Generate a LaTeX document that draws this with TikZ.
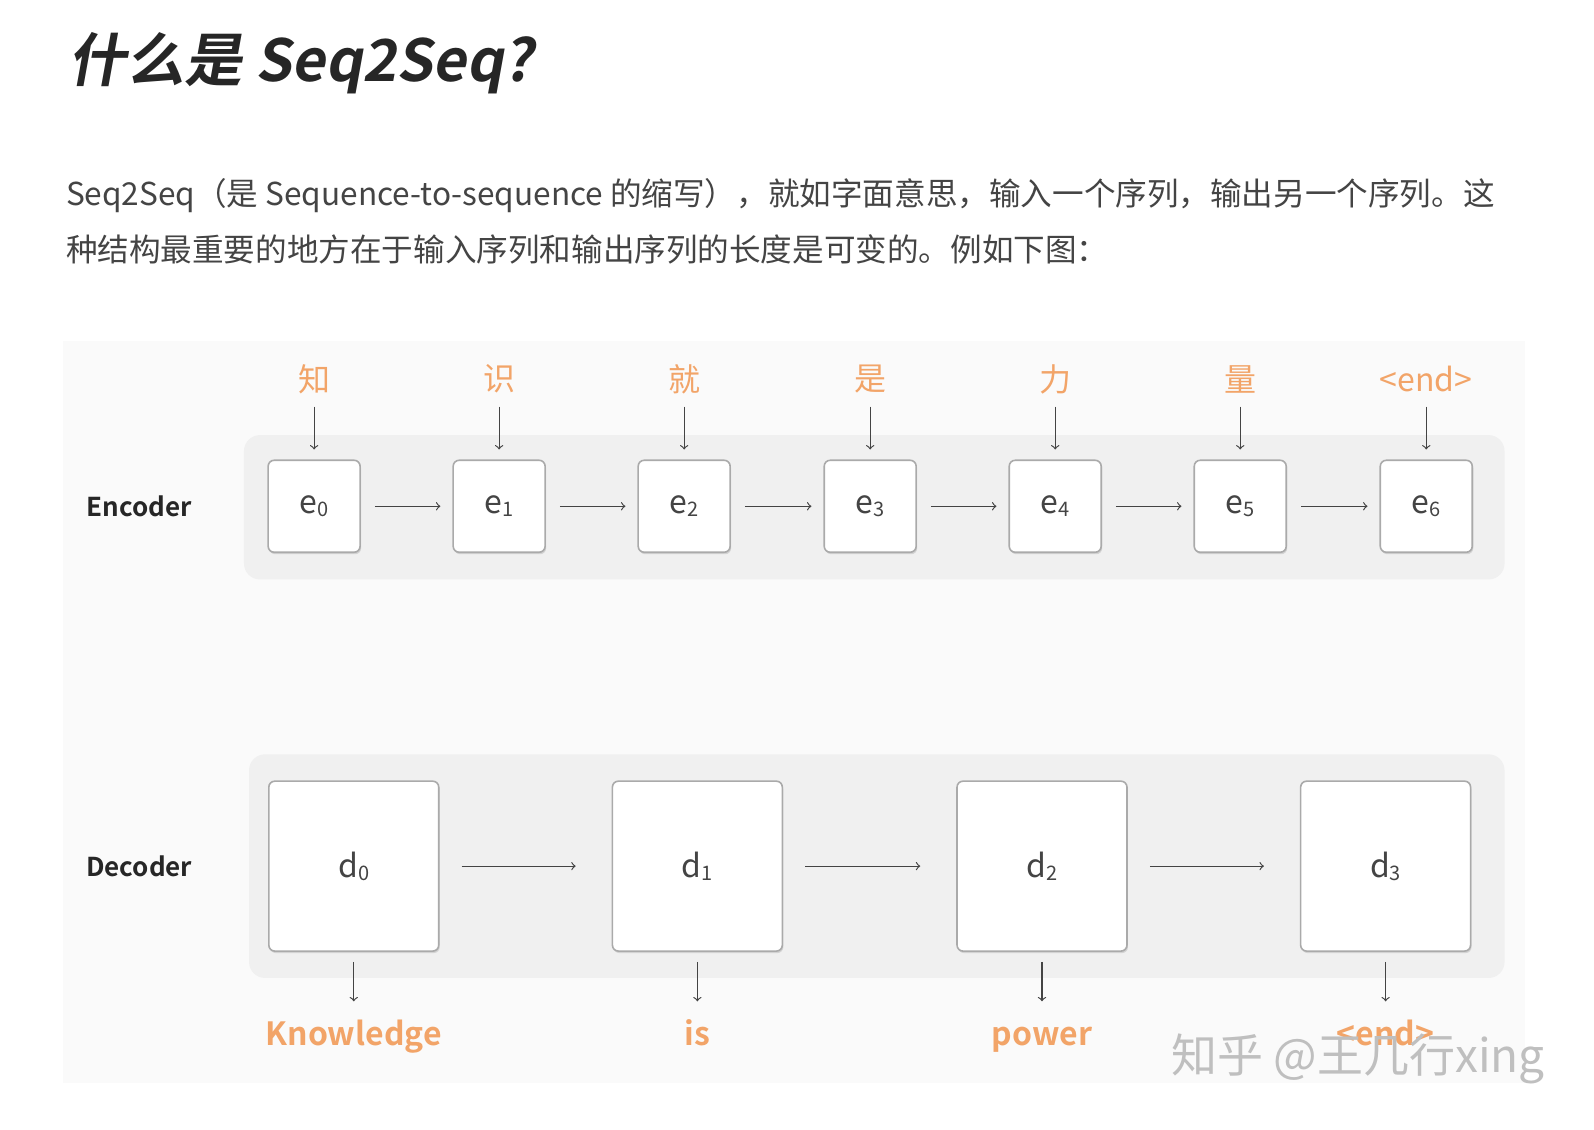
\documentclass[tikz,border=0pt]{standalone}
\usepackage{fontspec}
\setmainfont{Noto Sans CJK SC}
\newfontfamily\titlefont[FakeSlant=0.18]{Noto Sans CJK SC Bold}
\newfontfamily\boldf{Noto Sans CJK SC Bold}
\usetikzlibrary{shadows}
\definecolor{txt}{HTML}{444444}
\definecolor{org}{HTML}{F2A468}
\definecolor{panel}{HTML}{FAFAFA}
\definecolor{band}{HTML}{F0F0F0}
\definecolor{bord}{HTML}{AAAAAA}
\tikzset{
 cell/.style={draw=bord,fill=white,rounded corners=3pt,line width=0.8pt,drop shadow={shadow xshift=0.5pt,shadow yshift=-1pt,opacity=0.25},font=\fontsize{16}{16}\selectfont,text=txt},
 arr/.style={-to,line width=0.6pt,draw=txt},
 inlab/.style={font=\fontsize{16}{16}\selectfont,text=org},
 outlab/.style={font=\boldf\fontsize{16}{16}\selectfont,text=org,anchor=base},
 side/.style={font=\boldf\fontsize{13}{13}\selectfont,text=black!85}
}
\newcommand{\sbx}[2]{#1\raisebox{-1.5pt}{\fontsize{10}{10}\selectfont #2}}
\begin{document}
\begin{tikzpicture}[x=0.5085pt,y=-0.5085pt]
\useasboundingbox (0,0) rectangle (1568,1111);
\fill[white] (0,0) rectangle (1568,1111);
\node[anchor=west,font=\titlefont\fontsize{29}{29}\selectfont,text=black!85] (title) at (60,62) {什么是 Seq2Seq?};
\node[anchor=west,font=\fontsize{15.8}{15.8}\selectfont,text=txt] (p1) at (58,192) {Seq2Seq（是 Sequence-to-sequence 的缩写），就如字面意思，输入一个序列，输出另一个序列。这};
\node[anchor=west,font=\fontsize{15.8}{15.8}\selectfont,text=txt] (p2) at (58,245) {种结构最重要的地方在于输入序列和输出序列的长度是可变的。例如下图：};
\fill[panel] (62,335) rectangle (1500,1065);
\fill[band,rounded corners=8pt] (240,428) rectangle (1480,570);
\fill[band,rounded corners=8pt] (245,742) rectangle (1480,962);
\node[side] (enc) at (137,498) {Encoder};
\node[side] (dec) at (137,852) {Decoder};
\foreach \i/\x/\w in {0/309/知,1/491/识,2/673/就,3/856/是,4/1038/力,5/1220/量,6/1403/{<end>}}{
  \node[cell,minimum width=46pt,minimum height=46pt] (e\i) at (\x,498) {\sbx{e}{\i}};
  \node[inlab] (w\i) at (\x,373) {\w};
  \draw[arr,shorten >=5pt] (\x,400) -- (e\i.north);
}
\foreach \a/\b in {0/1,1/2,2/3,3/4,4/5,5/6}{
  \draw[arr,shorten <=7pt,shorten >=6pt] (e\a) -- (e\b);
}
\foreach \i/\x/\w in {0/348/Knowledge,1/686/is,2/1025/power,3/1363/{<end>}}{
  \node[cell,minimum width=85pt,minimum height=85pt] (d\i) at (\x,852) {\sbx{d}{\i}};
  \node[outlab] (o\i) at (\x,1028) {\w};
  \draw[arr,shorten <=5pt] (d\i.south) -- (\x,985);
}
\foreach \a/\b in {0/1,1/2,2/3}{
  \draw[arr,shorten <=11pt,shorten >=18pt] (d\a) -- (d\b);
}
\node[font=\fontsize{23}{23}\selectfont,text=black!25] (wm) at (1336,1042) {知乎 @王几行xing};
\end{tikzpicture}
\end{document}
